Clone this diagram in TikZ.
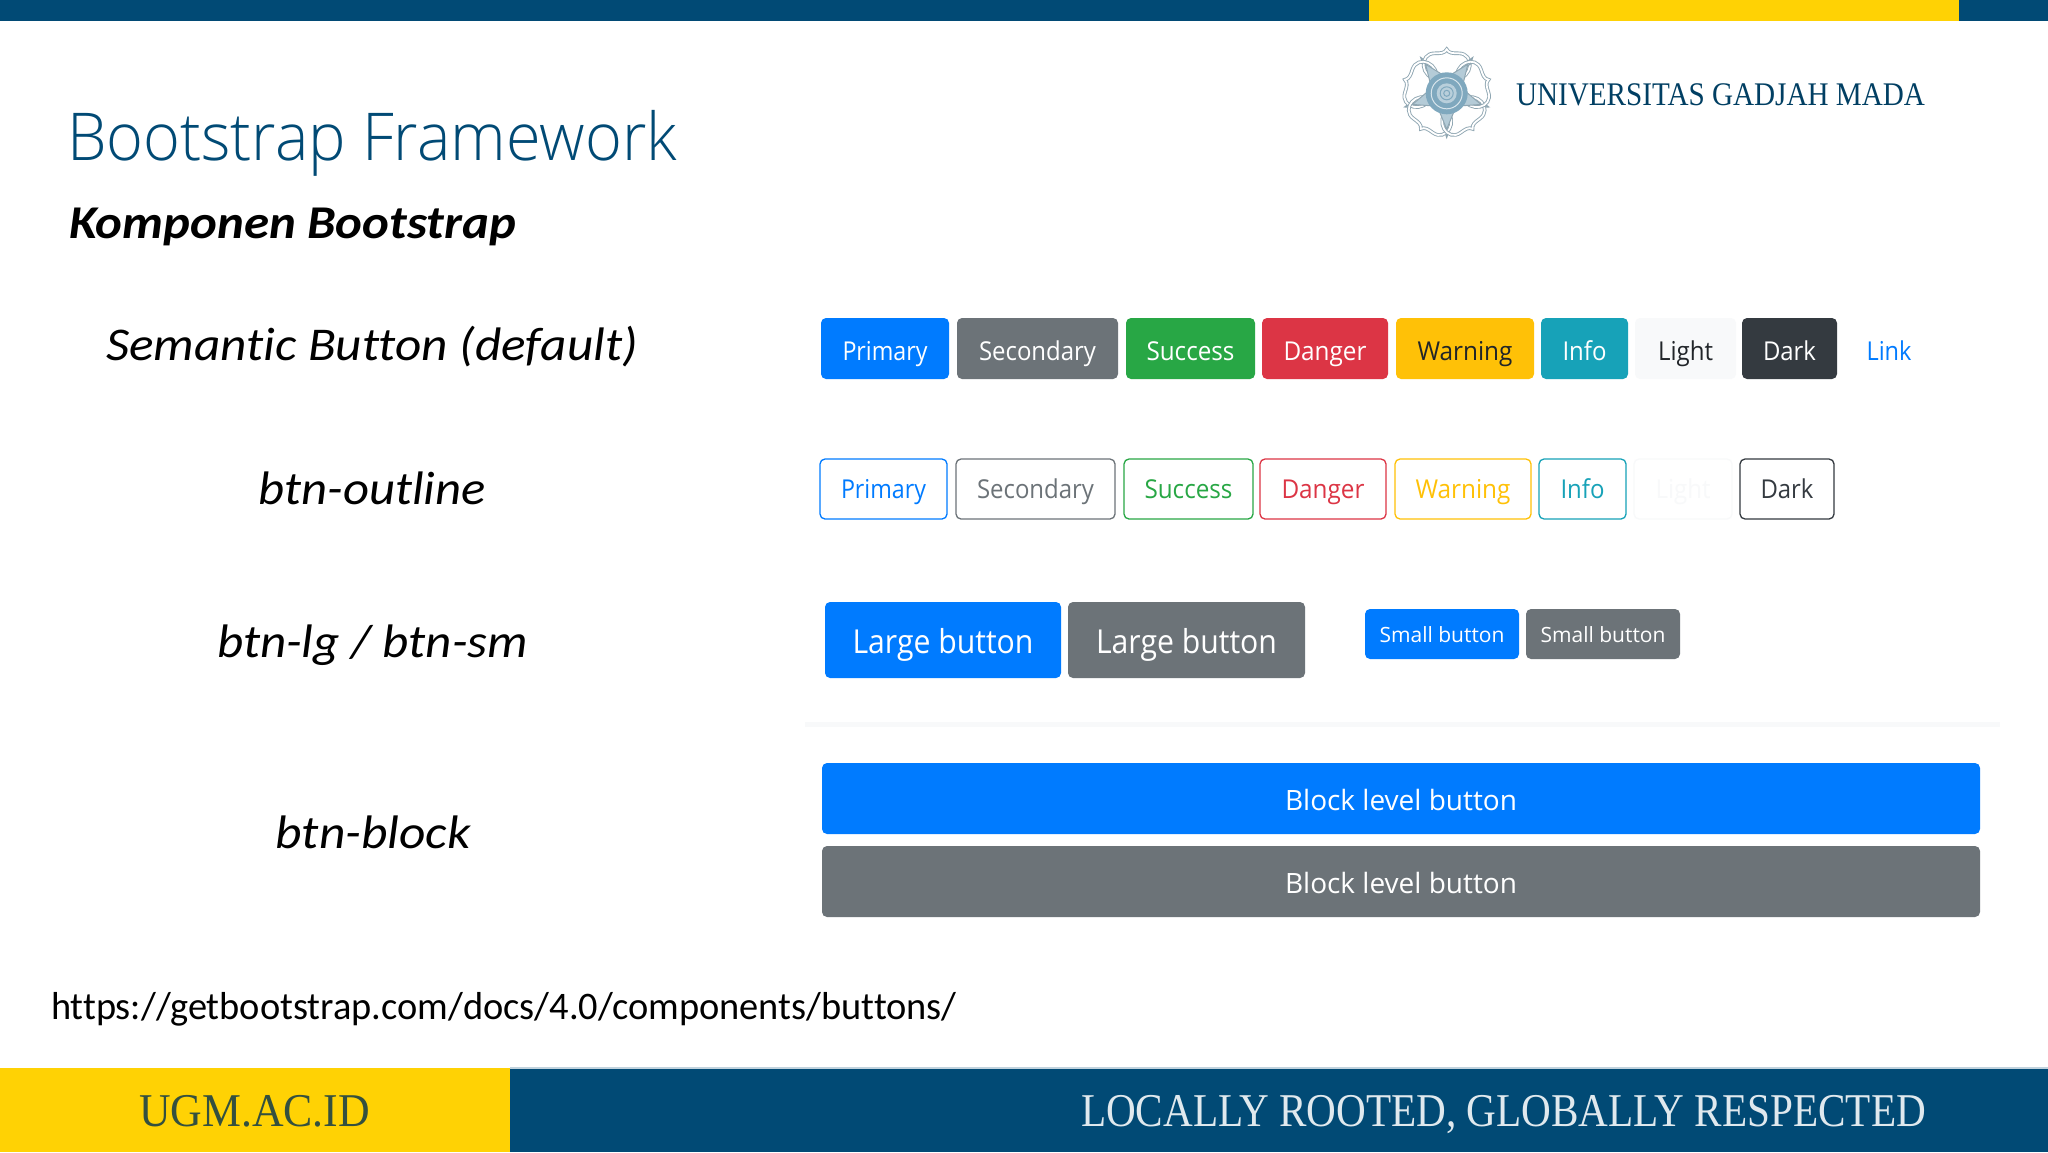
\documentclass[tikz,border=0pt]{standalone}
\usepackage{fontspec}
\usepackage{graphicx}
\setmainfont{Open Sans}
\newfontfamily\lightf{Open Sans Light}
\newfontfamily\calif[Ligatures=NoCommon]{Carlito}
\newfontfamily\serf{Liberation Serif}
\definecolor{navy}{HTML}{014A75}
\definecolor{ugmyellow}{HTML}{FFD204}
\definecolor{ugmink}{HTML}{34503F}
\definecolor{bprimary}{HTML}{007BFF}
\definecolor{bsecondary}{HTML}{6C7378}
\definecolor{bsuccess}{HTML}{28A745}
\definecolor{bdanger}{HTML}{DC3545}
\definecolor{bwarning}{HTML}{FFC107}
\definecolor{binfo}{HTML}{17A2B8}
\definecolor{blight}{HTML}{F8F9FA}
\definecolor{bdark}{HTML}{343A40}
\definecolor{ink}{HTML}{212529}
\definecolor{logoline}{HTML}{8FA6B2}
\definecolor{logofill}{HTML}{B4CBD7}
\definecolor{logocore}{HTML}{7FA8BE}
\newsavebox\fitb
\newcommand\fitw[2]{\sbox\fitb{#2}\pgfmathsetmacro\fitsx{(#1)*0.5/\the\wd\fitb}\scalebox{\fitsx}[1]{\usebox\fitb}}
\tikzset{
  x=0.5pt,y=-0.5pt,
  btnbase/.style={inner sep=0pt,outer sep=0pt,rounded corners=2.5pt,font=\fontsize{13}{13}\selectfont,text height=13.8pt,text depth=1.5pt},
  solid/.style={fill=#1,text=white},
  ghost/.style={draw=#1,line width=.65pt,fill=white,text=#1,text height=11.4pt},
  rowlg/.style={font=\fontsize{16.5}{16.5}\selectfont,text height=15pt,text depth=2pt},
  rowsm/.style={font=\fontsize{10.5}{10.5}\selectfont,text height=10pt,text depth=1.5pt},
  rowblock/.style={font=\fontsize{14}{14}\selectfont,text height=13pt,text depth=1.5pt},
  txt/.style={inner sep=0pt,outer sep=0pt,anchor=base west},
  sidelabel/.style={txt,font=\calif\itshape\fontsize{23.5}{23.5}\selectfont,text=black},
  petal/.style={draw=logoline,line width=.45pt,double=white,double distance=.9pt},
}
\newcommand\btn[8][]{%
  \pgfmathsetmacro\bx{(#3+#4)/2}\pgfmathsetmacro\by{(#5+#6)/2}%
  \pgfmathsetmacro\bw{(#4-#3)*0.5}\pgfmathsetmacro\bh{(#6-#5)*0.5}%
  \node[btnbase,minimum width=\bw pt,minimum height=\bh pt,#1] (#2) at (\bx,\by) {\fitw{#7}{#8}};}
\begin{document}
\begin{tikzpicture}
\useasboundingbox (0,0) rectangle (2048,1152);
\fill[white] (0,0) rectangle (2048,1152);
% top bar
\fill[navy] (0,0) rectangle (2048,20.5);
\fill[ugmyellow] (1369,0) rectangle (1959,20.5);
% bottom bar
\fill[navy] (510,1068) rectangle (2048,1152);
\fill[ugmyellow] (0,1068) rectangle (510,1152);
\fill[white!75!navy] (510,1067) rectangle (2048,1068.5);
% logo
\begin{scope}[shift={(1446.7,93.3)}]
  \foreach \a in {0,72,144,216,288}{
    \begin{scope}[rotate=\a+36]
      \draw[logoline,line width=.6pt,fill=white] (0,-44) -- (2,-38) -- (0,-32) -- (-2,-38) -- cycle;
    \end{scope}
    \begin{scope}[rotate=\a]
      \draw[petal] (-8,-14) .. controls (-27,-15) and (-28,-40) .. (-12,-40) .. controls (-6,-40) and (-2,-40) .. (0,-44) .. controls (2,-40) and (6,-40) .. (12,-40) .. controls (28,-40) and (27,-15) .. (8,-14);
    \end{scope}
  }
  \draw[logoline,line width=.5pt,fill=logofill] (90:36) -- (126:16) -- (162:36) -- (198:16) -- (234:36) -- (270:16) -- (306:36) -- (342:16) -- (18:36) -- (54:16) -- cycle;
  \fill[logocore] (0,0) circle (21);
  \draw[white!70!logocore,line width=.5pt] (0,0) circle (15.5);
  \fill[white!45!logocore] (0,0) circle (10);
  \draw[logocore,line width=.5pt] (0,0) circle (6.5);
  \draw[logocore,line width=.5pt] (0,0) circle (3);
\end{scope}
\node[txt,font=\serf\fontsize{16.5}{16.5}\selectfont,text=navy!85!black] (logotext) at (1516,105) {\fitw{409}{UNIVERSITAS GADJAH MADA}};
% headings
\node[txt,font=\lightf\fontsize{33}{33}\selectfont,text=navy] (title) at (67,160) {\fitw{610}{Bootstrap Framework}};
\node[txt,font=\calif\bfseries\itshape\fontsize{23.5}{23.5}\selectfont,text=black] (subtitle) at (69,238) {\fitw{447}{Komponen Bootstrap}};
% side labels
\node[sidelabel] (lsem) at (106,360) {\fitw{532}{Semantic Button (default)}};
\node[sidelabel] (lout) at (258.6,504) {\fitw{227}{btn-outline}};
\node[sidelabel] (llg) at (217,657) {\fitw{311}{btn-lg / btn-sm}};
\node[sidelabel] (lblock) at (275.6,848) {\fitw{195}{btn-block}};
% row 1
\btn[solid=bprimary]{a1}{821}{949}{318}{379}{85}{Primary}
\btn[solid=bsecondary]{a2}{957}{1118}{318}{379}{117}{Secondary}
\btn[solid=bsuccess]{a3}{1126}{1255}{318}{379}{88}{Success}
\btn[solid=bdanger]{a4}{1262}{1388}{318}{379}{83}{Danger}
\btn[fill=bwarning,text=ink]{a5}{1396}{1534}{318}{379}{95}{Warning}
\btn[solid=binfo]{a6}{1541}{1628}{318}{379}{44}{Info}
\btn[fill=blight,text=ink]{a7}{1635}{1736}{318}{379}{55}{Light}
\btn[solid=bdark]{a8}{1742}{1837}{318}{379}{53}{Dark}
\btn[text=bprimary]{a9}{1844}{1934}{318}{379}{45}{Link}
% row 2
\btn[ghost=bprimary]{b1}{820}{947}{459}{519}{85}{Primary}
\btn[ghost=bsecondary]{b2}{956}{1115}{459}{519}{117}{Secondary}
\btn[ghost=bsuccess]{b3}{1124}{1253}{459}{519}{88}{Success}
\btn[ghost=bdanger]{b4}{1260}{1386}{459}{519}{83}{Danger}
\btn[ghost=bwarning]{b5}{1395}{1531}{459}{519}{95}{Warning}
\btn[ghost=binfo]{b6}{1539}{1626}{459}{519}{44}{Info}
\btn[ghost=blight]{b7}{1634}{1732}{459}{519}{55}{Light}
\btn[ghost=bdark]{b8}{1740}{1834}{459}{519}{53}{Dark}
% row 3
\btn[solid=bprimary,rowlg]{c1}{825}{1061}{602}{678}{181}{Large button}
\btn[solid=bsecondary,rowlg]{c2}{1068}{1305}{602}{678}{181}{Large button}
\btn[solid=bprimary,rowsm]{c3}{1365}{1519}{609}{659}{125}{Small button}
\btn[solid=bsecondary,rowsm]{c4}{1526}{1680}{609}{659}{125}{Small button}
% divider
\fill[blight] (805,722) rectangle (2000,727);
% block
\btn[solid=bprimary,rowblock]{d1}{822}{1980}{763}{834}{232}{Block level button}
\btn[solid=bsecondary,rowblock]{d2}{822}{1980}{846}{917}{232}{Block level button}
% url
\node[txt,font=\calif\fontsize{19.5}{19.5}\selectfont,text=black] (url) at (51,1019.5) {\fitw{906}{https://getbootstrap.com/docs/4.0/components/buttons/}};
% footer
\node[txt,font=\serf\fontsize{23.5}{23.5}\selectfont,text=ugmink] (ugm) at (139,1126) {\fitw{231}{UGM.AC.ID}};
\node[txt,font=\serf\fontsize{23.5}{23.5}\selectfont,text=white!88!navy] (motto) at (1081,1126) {\fitw{845}{LOCALLY ROOTED, GLOBALLY RESPECTED}};
\end{tikzpicture}
\end{document}
